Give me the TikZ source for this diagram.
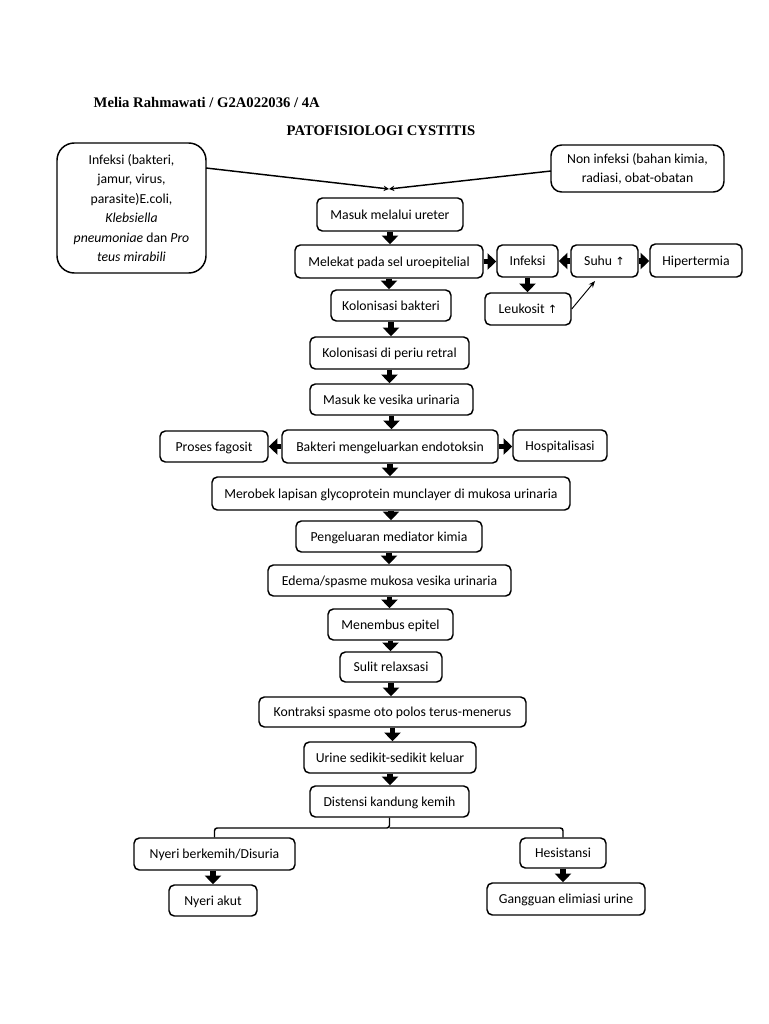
\documentclass[tikz,border=0pt]{standalone}
\usepackage{fontspec}
\setmainfont{Carlito}
\newfontfamily\headfont{Liberation Serif}
\newfontfamily\symfont{DejaVu Sans}
\usetikzlibrary{arrows.meta}
\newcommand\upar{{\symfont\fontsize{8.5}{10}\selectfont ↑}}
\newcommand\mybox[6]{\node[bx, minimum width={(#4-#2)*0.75pt}, minimum height={(#5-#3)*0.75pt}] (#1) at ({(#2+#4)/2},{(#3+#5)/2}) {#6};}
\begin{document}
\begin{tikzpicture}[x=0.75pt,y=-0.75pt,
  font=\fontsize{10.3}{12}\selectfont,
  bx/.style={draw, rounded corners=4pt, line width=1.1pt, inner sep=0pt, text height=8.6pt, text depth=1.2pt},
  bigbx/.style={draw, line width=1.1pt, inner sep=0pt, align=center},
  blk/.style={line width=4pt, -{Triangle[width=12pt,length=6.5pt]}},
  thinarr/.style={line width=0.7pt, -{Stealth[length=5pt,width=4pt]}},
  topline/.style={line width=1.1pt, -{Stealth[length=4pt,width=4pt]}},
  bracket/.style={line width=1.1pt, rounded corners=2pt},
  head/.style={font=\headfont\bfseries\fontsize{11}{13}\selectfont}]
\fill[white] (0,0) rectangle (768,1024);
\useasboundingbox (0,0) rectangle (768,1024);

\node[head, anchor=west] (auth) at (89,102) {Melia Rahmawati / G2A022036 / 4A};
\node[head] (title) at (381,131) {PATOFISIOLOGI CYSTITIS};

\node[bigbx, rounded corners=13pt, minimum width={149*0.75pt}, minimum height={130*0.75pt},
  font=\fontsize{10.3}{14.6}\selectfont] (left) at (131.5,208)
  {Infeksi (bakteri,\\ jamur, virus,\\ parasite)E.coli,\\ \textit{Klebsiella}\\ \textit{pneumoniae} dan \textit{Pro}\\ \textit{teus mirabili}};
\node[bigbx, rounded corners=8pt, minimum width={173*0.75pt}, minimum height={47*0.75pt},
  font=\fontsize{10.3}{14.3}\selectfont] (right) at (637.5,168.5)
  {Non infeksi (bahan kimia,\\ radiasi, obat-obatan};

\mybox{masuk}{317}{198}{463}{231}{Masuk melalui ureter}
\mybox{melekat}{295}{245}{483}{278}{Melekat pada sel uroepitelial}
\mybox{infeksi}{497}{245}{558}{277}{Infeksi}
\mybox{suhu}{571}{245}{638}{277}{Suhu \upar}
\mybox{hiper}{650}{244}{742}{277}{Hipertermia}
\mybox{leuko}{485}{293}{571}{325}{Leukosit \upar}
\mybox{kolon}{331}{290}{451}{321}{Kolonisasi bakteri}
\mybox{periu}{310}{337}{469}{369}{Kolonisasi di periu retral}
\mybox{vesika}{310}{384}{473}{415}{Masuk ke vesika urinaria}
\mybox{endo}{282}{430}{498}{463}{Bakteri mengeluarkan endotoksin}
\mybox{fago}{160}{431}{268}{462}{Proses fagosit}
\mybox{hosp}{513}{430}{607}{461}{Hospitalisasi}
\mybox{merobek}{212}{477}{570}{510}{Merobek lapisan glycoprotein munclayer di mukosa urinaria}
\mybox{mediator}{296}{521}{482}{552}{Pengeluaran mediator kimia}
\mybox{edema}{268}{565}{511}{596}{Edema/spasme mukosa vesika urinaria}
\mybox{menembus}{328}{609}{453}{640}{Menembus epitel}
\mybox{sulit}{340}{652}{442}{682}{Sulit relaxsasi}
\mybox{kontraksi}{259}{697}{526}{727}{Kontraksi spasme oto polos terus-menerus}
\mybox{urine}{304}{742}{476}{773}{Urine sedikit-sedikit keluar}
\mybox{distensi}{310}{786}{469}{817}{Distensi kandung kemih}
\mybox{nyeri}{134}{838}{295}{870}{Nyeri berkemih/Disuria}
\mybox{hes}{520}{838}{606}{868}{Hesistansi}
\mybox{akut}{169}{885}{257}{916}{Nyeri akut}
\mybox{gangguan}{487}{883}{645}{915}{Gangguan elimiasi urine}

% top converging lines
\coordinate (meet) at (389,189);
\coordinate (ls) at (206,168);
\coordinate (rs) at (551,171);
\draw[topline] (ls) -- (meet);
\draw[topline] (rs) -- (meet);

% main chain
\draw[blk] (masuk.south) -- (masuk.south |- melekat.north);
\draw[blk] (melekat.south) -- (melekat.south |- kolon.north);
\draw[blk] (kolon.south) -- (kolon.south |- periu.north);
\draw[blk] (periu.south) -- (periu.south |- vesika.north);
\draw[blk] (vesika.south) -- (vesika.south |- endo.north);
\draw[blk] (endo.south) -- (endo.south |- merobek.north);
\draw[blk] (merobek.south) -- (merobek.south |- mediator.north);
\draw[blk] (mediator.south) -- (mediator.south |- edema.north);
\draw[blk] (edema.south) -- (edema.south |- menembus.north);
\draw[blk] (menembus.south) -- (menembus.south |- sulit.north);
\draw[blk] (sulit.south) -- (sulit.south |- kontraksi.north);
\draw[blk] (kontraksi.south) -- (kontraksi.south |- urine.north);
\draw[blk] (urine.south) -- (urine.south |- distensi.north);

% side arrows
\draw[blk] (melekat.east) -- (melekat.east -| infeksi.west);
\draw[blk] (suhu.west) -- (suhu.west -| infeksi.east);
\draw[blk] (suhu.east) -- (suhu.east -| hiper.west);
\draw[blk] (infeksi.south) -- (infeksi.south |- leuko.north);
\coordinate (sh) at (595,281);
\draw[thinarr] (leuko.east) -- (sh);
\draw[blk] (endo.west) -- (endo.west -| fago.east);
\draw[blk] (endo.east) -- (endo.east -| hosp.west);

% bottom branch
\coordinate (br) at (389.5,828);
\draw[bracket] (distensi.south) -- (br) -| (nyeri.north);
\draw[bracket] (br) -| (hes.north);
\draw[blk] (nyeri.south -| akut.north) -- (akut.north);
\draw[blk] (hes.south) -- (hes.south |- gangguan.north);
\end{tikzpicture}
\end{document}
